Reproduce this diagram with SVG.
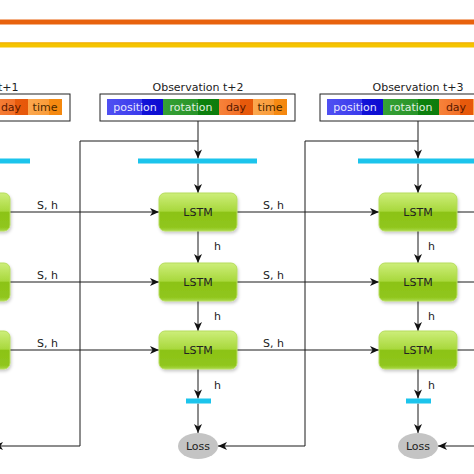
<svg xmlns="http://www.w3.org/2000/svg" width="474" height="474" viewBox="0 0 474 474">
<defs>
<style>
.t{font-family:"DejaVu Sans","Liberation Sans",sans-serif;font-size:11px;fill:#222}
.m{text-anchor:middle}
.box{fill:#fff;stroke:#222;stroke-width:1}
.bar{fill:#1cc4ec}
.lstm{fill:url(#gL);stroke:#b6dc5c;stroke-width:1}
.loss{fill:#c4c4c4}
.c{fill:none;stroke:#1a1a1a;stroke-width:1}
.a{marker-end:url(#arr)}
.fp{fill:url(#gP)}.fr{fill:url(#gR)}.fd{fill:url(#gD)}.ft{fill:url(#gT)}
.tp{fill:#e6e6ff}.tr{fill:#e0f0e0}.td{fill:#5a1800}.tt{fill:#4a2800}
</style>
<linearGradient id="gL" x1="0" y1="0" x2="0" y2="1">
<stop offset="0" stop-color="#cdee7a"/><stop offset="0.48" stop-color="#a8d83c"/>
<stop offset="0.5" stop-color="#8cc316"/><stop offset="0.9" stop-color="#90c61c"/><stop offset="1" stop-color="#a8d848"/>
</linearGradient>
<linearGradient id="gP" x1="0" y1="0" x2="1" y2="0">
<stop offset="0" stop-color="#5050f2"/><stop offset="0.62" stop-color="#3a3aec"/><stop offset="0.63" stop-color="#1212d8"/><stop offset="1" stop-color="#0c0cd0"/>
</linearGradient>
<linearGradient id="gR" x1="0" y1="0" x2="1" y2="0">
<stop offset="0" stop-color="#36a036"/><stop offset="0.62" stop-color="#289428"/><stop offset="0.63" stop-color="#0e820e"/><stop offset="1" stop-color="#0c7c0c"/>
</linearGradient>
<linearGradient id="gD" x1="0" y1="0" x2="1" y2="0">
<stop offset="0" stop-color="#f7823a"/><stop offset="0.62" stop-color="#f27028"/><stop offset="0.63" stop-color="#e85a0c"/><stop offset="1" stop-color="#e6580a"/>
</linearGradient>
<linearGradient id="gT" x1="0" y1="0" x2="1" y2="0">
<stop offset="0" stop-color="#fba850"/><stop offset="0.62" stop-color="#fa9c38"/><stop offset="0.63" stop-color="#f68a12"/><stop offset="1" stop-color="#f4880e"/>
</linearGradient>
<filter id="sh" x="-20%" y="-20%" width="140%" height="150%">
<feDropShadow dx="1" dy="2" stdDeviation="1.5" flood-color="#000" flood-opacity="0.2"/>
</filter>
<marker id="arr" viewBox="-1 -5 11 10" refX="9" refY="0" markerWidth="11" markerHeight="10" markerUnits="userSpaceOnUse" orient="auto">
<path d="M0,-4 L9,0 L0,4 L2.5,0 z" fill="#111"/>
</marker>
</defs>
<rect width="474" height="474" fill="#fff"/>

<g id="timelines">
<line x1="0" y1="22" x2="474" y2="22" stroke="#e8620e" stroke-width="5"/>
<line x1="0" y1="45" x2="474" y2="45" stroke="#f5c400" stroke-width="5"/>
<line x1="0" y1="42.8" x2="474" y2="42.8" stroke="#f0a000" stroke-width="0.8"/>
</g>

<g id="connectors">
<line class="c a" x1="10" y1="212" x2="159" y2="212"/>
<line class="c a" x1="10" y1="282" x2="159" y2="282"/>
<line class="c a" x1="10" y1="350" x2="159" y2="350"/>
<polyline class="c a" points="198,141 80,141 80,446 -6,446"/>
<line class="c a" x1="198" y1="121" x2="198" y2="158.5"/>
<line class="c a" x1="198" y1="163.5" x2="198" y2="193"/>
<line class="c a" x1="198" y1="231" x2="198" y2="263"/>
<line class="c a" x1="198" y1="301" x2="198" y2="331"/>
<line class="c a" x1="198" y1="369" x2="198" y2="398.5"/>
<line class="c a" x1="198" y1="403.5" x2="198" y2="433"/>
<line class="c a" x1="237" y1="212" x2="379" y2="212"/>
<line class="c a" x1="237" y1="282" x2="379" y2="282"/>
<line class="c a" x1="237" y1="350" x2="379" y2="350"/>
<polyline class="c a" points="418,141 305,141 305,446 218,446"/>
<line class="c a" x1="418" y1="121" x2="418" y2="158.5"/>
<line class="c a" x1="418" y1="163.5" x2="418" y2="193"/>
<line class="c a" x1="418" y1="231" x2="418" y2="263"/>
<line class="c a" x1="418" y1="301" x2="418" y2="331"/>
<line class="c a" x1="418" y1="369" x2="418" y2="398.5"/>
<line class="c a" x1="418" y1="403.5" x2="418" y2="433"/>
<line class="c" x1="457" y1="212" x2="474" y2="212"/>
<line class="c" x1="457" y1="282" x2="474" y2="282"/>
<line class="c" x1="457" y1="350" x2="474" y2="350"/>
<line class="c a" x1="480" y1="446" x2="438" y2="446"/>
<text class="t" x="37" y="209">S, h</text>
<text class="t" x="37" y="279">S, h</text>
<text class="t" x="37" y="347">S, h</text>
<text class="t" x="263" y="209">S, h</text>
<text class="t" x="263" y="279">S, h</text>
<text class="t" x="263" y="347">S, h</text>
<text class="t" x="214" y="250">h</text>
<text class="t" x="214" y="320">h</text>
<text class="t" x="214" y="389">h</text>
<text class="t" x="428" y="250">h</text>
<text class="t" x="428" y="320">h</text>
<text class="t" x="428" y="389">h</text>
</g>

<g id="obs-t1">
<text class="t m" x="-27" y="91">Observation t+1</text>
<rect class="box" x="-125" y="94" width="195" height="27"/>
<rect class="fd" x="-6" y="99" width="34" height="16"/>
<rect class="ft" x="28" y="99" width="34" height="16"/>
<text class="t m td" x="11" y="111">day</text>
<text class="t m tt" x="45" y="111">time</text>
</g>
<g id="obs-t2">
<text class="t m" x="198" y="91">Observation t+2</text>
<rect class="box" x="100" y="94" width="195" height="27"/>
<rect class="fp" x="107" y="99" width="56" height="16"/>
<rect class="fr" x="163" y="99" width="56" height="16"/>
<rect class="fd" x="219" y="99" width="34" height="16"/>
<rect class="ft" x="253" y="99" width="34" height="16"/>
<text class="t m tp" x="135" y="111">position</text>
<text class="t m tr" x="191" y="111">rotation</text>
<text class="t m td" x="236" y="111">day</text>
<text class="t m tt" x="270" y="111">time</text>
</g>
<g id="obs-t3">
<text class="t m" x="418" y="91">Observation t+3</text>
<rect class="box" x="320" y="94" width="195" height="27"/>
<rect class="fp" x="327" y="99" width="56" height="16"/>
<rect class="fr" x="383" y="99" width="56" height="16"/>
<rect class="fd" x="439" y="99" width="34" height="16"/>
<rect class="ft" x="473" y="99" width="34" height="16"/>
<text class="t m tp" x="355" y="111">position</text>
<text class="t m tr" x="411" y="111">rotation</text>
<text class="t m td" x="456" y="111">day</text>
</g>

<g id="merge-bars">
<rect class="bar" x="-89" y="158.5" width="119" height="5"/>
<rect class="bar" x="138" y="158.5" width="119" height="5"/>
<rect class="bar" x="358" y="158.5" width="119" height="5"/>
<rect class="bar" x="186" y="398.5" width="25" height="5"/>
<rect class="bar" x="406" y="398.5" width="25" height="5"/>
</g>

<g id="lstm-left">
<rect class="lstm" filter="url(#sh)" x="-68" y="193" width="78" height="38" rx="6"/>
<rect class="lstm" filter="url(#sh)" x="-68" y="263" width="78" height="38" rx="6"/>
<rect class="lstm" filter="url(#sh)" x="-68" y="331" width="78" height="38" rx="6"/>
</g>
<g id="lstm-center">
<rect class="lstm" filter="url(#sh)" x="159" y="193" width="78" height="38" rx="6"/>
<text class="t m" x="198" y="216">LSTM</text>
<rect class="lstm" filter="url(#sh)" x="159" y="263" width="78" height="38" rx="6"/>
<text class="t m" x="198" y="286">LSTM</text>
<rect class="lstm" filter="url(#sh)" x="159" y="331" width="78" height="38" rx="6"/>
<text class="t m" x="198" y="354">LSTM</text>
</g>
<g id="lstm-right">
<rect class="lstm" filter="url(#sh)" x="379" y="193" width="78" height="38" rx="6"/>
<text class="t m" x="418" y="216">LSTM</text>
<rect class="lstm" filter="url(#sh)" x="379" y="263" width="78" height="38" rx="6"/>
<text class="t m" x="418" y="286">LSTM</text>
<rect class="lstm" filter="url(#sh)" x="379" y="331" width="78" height="38" rx="6"/>
<text class="t m" x="418" y="354">LSTM</text>
</g>
<g id="loss-center">
<ellipse class="loss" cx="198" cy="446" rx="20" ry="13"/>
<text class="t m" x="198" y="450" fill="#333">Loss</text>
</g>
<g id="loss-right">
<ellipse class="loss" cx="418" cy="446" rx="20" ry="13"/>
<text class="t m" x="418" y="450" fill="#333">Loss</text>
</g>
</svg>
